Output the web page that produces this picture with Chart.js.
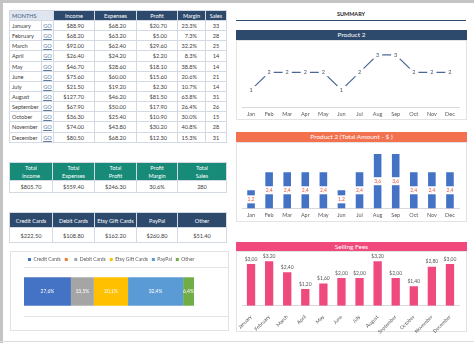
<!DOCTYPE html>
<html>
<head>
<meta charset="utf-8">
<script src="https://cdn.jsdelivr.net/npm/chart.js@4.4.0/dist/chart.umd.min.js"></script>
<style>
html, body { margin: 0; padding: 0; }
body { width: 474px; height: 343px; position: relative; overflow: hidden; background: #fff; font-family: Lato, "Open Sans", sans-serif; }
.strip { position: absolute; background: #c4c4c4; }
table { position: absolute; border-collapse: collapse; table-layout: fixed; font-size: 5.6px; color: #404040; }
td, th { border: 1px solid #d3dae3; padding: 0; overflow: hidden; white-space: nowrap; font-weight: normal; }
th { background: #2d4a6d; color: #fff; text-align: center; }
.main td.m { text-align: left; padding-left: 2px; }
.main td.go { text-align: center; color: #5b7ba3; text-decoration: underline; }
.main td.r { text-align: right; padding-right: 10px; }
.main td.r2 { text-align: right; padding-right: 8px; }
.main td.c { text-align: center; }
.main th.mh { background: #dfe6ef; color: #3d5a7e; text-align: left; padding-left: 2px; }
.tot th { background: #188a78; line-height: 8px; }
.tot td, .pay td { text-align: center; }
.box { position: absolute; border: 1px solid #e3e3e3; box-sizing: border-box; background: #fff; overflow: visible; }
.hdr { position: absolute; color: #fff; font-size: 6.5px; text-align: center; }
canvas { position: absolute; left: 0; top: 0; }
</style>
</head>
<body>
<div class="strip" style="left:0;top:0;width:474px;height:3px"></div>
<div class="strip" style="left:0;top:0;width:3px;height:343px"></div>
<div class="strip" style="left:0;top:341px;width:474px;height:1px;background:#dcdcdc"></div>

<table class="main" id="mainTable" style="left:9px;top:10px;width:217px"></table>
<table class="tot" id="totTable" style="left:9px;top:162px;width:217px"></table>
<table class="pay" id="payTable" style="left:9px;top:212px;width:217px"></table>

<div class="box" style="left:10px;top:251px;width:219px;height:80px"><canvas id="payChart" width="217" height="78"></canvas></div>

<div style="position:absolute;left:236px;top:11px;width:230px;text-align:center;font-size:5.5px;font-weight:bold;color:#262626">SUMMARY</div>
<div style="position:absolute;left:236px;top:20px;width:230px;height:1px;background:#2d4a6d"></div>

<div class="hdr" style="left:236px;top:30px;width:231px;height:10px;line-height:10px;background:#2d4a6d">Product 2</div>
<div class="box" style="left:236px;top:40px;width:231px;height:80px"><canvas id="lineChart" width="229" height="81"></canvas></div>

<div class="hdr" style="left:236px;top:132px;width:231px;height:10px;line-height:10px;background:#f4714f">Product 2 (Total Amount - $ )</div>
<div class="box" style="left:236px;top:142px;width:231px;height:80px"><canvas id="amountChart" width="229" height="79"></canvas></div>

<div class="hdr" style="left:236px;top:242px;width:231px;height:9px;line-height:9px;background:#f2497d">Selling Fees</div>
<div class="box" style="left:236px;top:251px;width:231px;height:81px"><canvas id="feesChart" width="229" height="83"></canvas></div>

<script>
// ---- data ----
const months = ['January', 'February', 'March', 'April', 'May', 'June', 'July', 'August', 'September', 'October', 'November', 'December'];
const monthsShort = ['Jan', 'Feb', 'Mar', 'Apr', 'May', 'Jun', 'Jul', 'Aug', 'Sep', 'Oct', 'Nov', 'Dec'];
const income = [88.90, 68.20, 92.00, 26.40, 46.70, 75.60, 21.50, 127.70, 67.90, 36.30, 74.00, 80.50];
const expenses = [68.20, 63.20, 62.40, 24.20, 28.60, 60.00, 19.20, 46.20, 50.00, 25.40, 43.80, 68.20];
const profit = [20.70, 5.00, 29.60, 2.20, 18.10, 15.60, 2.30, 81.50, 17.90, 10.90, 30.20, 12.30];
const margin = ['23.3%', '7.3%', '32.2%', '8.3%', '38.8%', '20.6%', '10.7%', '63.8%', '26.4%', '30.0%', '40.8%', '15.3%'];
const sales = [33, 28, 25, 14, 14, 21, 14, 31, 26, 15, 28, 31];

const totalHeaders = ['Total<br>Income', 'Total<br>Expenses', 'Total<br>Profit', 'Profit<br>Margin', 'Total<br>Sales'];
const totalValues = ['$805.70', '$559.40', '$246.30', '30.6%', '280'];

const payMethods = ['Credit Cards', 'Debit Cards', 'Etsy Gift Cards', 'PayPal', 'Other'];
const payAmounts = ['$222.50', '$108.80', '$162.20', '$260.80', '$51.40'];

// stacked bar (share of income, %), the orange series has no label and no value
const shareLabels = ['Credit Cards', '', 'Debit Cards', 'Etsy Gift Cards', 'PayPal', 'Other'];
const shareValues = [27.6, 0, 13.5, 20.1, 32.4, 6.4];
const shareColors = ['#4472c4', '#ed7d31', '#a5a5a5', '#ffc000', '#5b9bd5', '#70ad47'];

const product2Units = [1, 2, 2, 2, 2, 1, 2, 3, 3, 2, 2, 2];
const product2Amount = [1.2, 2.4, 2.4, 2.4, 2.4, 1.2, 2.4, 3.6, 3.6, 2.4, 2.4, 2.4];
const sellingFees = [3.00, 3.20, 2.40, 1.20, 1.60, 2.00, 2.00, 3.20, 2.00, 1.40, 2.80, 3.00];

// ---- tables ----
const colWidths = [43, 42, 42, 41, 49];
const money = v => '$' + v.toFixed(2);

let h = '<colgroup><col style="width:32px"><col style="width:12px"><col style="width:41px"><col style="width:42px"><col style="width:41px"><col style="width:28px"><col style="width:21px"></colgroup>';
h += '<tr style="height:10px"><th class="mh" colspan="2">MONTHS</th><th>Income</th><th>Expenses</th><th>Profit</th><th>Margin</th><th>Sales</th></tr>';
months.forEach((m, i) => {
  h += '<tr style="height:10.15px"><td class="m">' + m + '</td><td class="go">GO</td>' +
    '<td class="r">' + money(income[i]) + '</td><td class="r">' + money(expenses[i]) + '</td>' +
    '<td class="r">' + money(profit[i]) + '</td><td class="r2">' + margin[i] + '</td><td class="c">' + sales[i] + '</td></tr>';
});
document.getElementById('mainTable').innerHTML = h;

const cols = '<colgroup>' + colWidths.map(w => '<col style="width:' + w + 'px">').join('') + '</colgroup>';
document.getElementById('totTable').innerHTML = cols +
  '<tr style="height:18px">' + totalHeaders.map(t => '<th>' + t + '</th>').join('') + '</tr>' +
  '<tr style="height:12px">' + totalValues.map(t => '<td>' + t + '</td>').join('') + '</tr>';
document.getElementById('payTable').innerHTML = cols +
  '<tr style="height:15px">' + payMethods.map(t => '<th>' + t + '</th>').join('') + '</tr>' +
  '<tr style="height:15px">' + payAmounts.map(t => '<td>' + t + '</td>').join('') + '</tr>';

// ---- charts ----
Chart.defaults.font.family = 'Lato, "Open Sans", sans-serif';
Chart.defaults.color = '#595959';
Chart.defaults.animation = false;
const comma = (v, d) => v.toFixed(d).replace('.', ',');

function boxLabel(ctx, text, x, y, color, bg, size) {
  ctx.save();
  ctx.font = size + 'px Lato, "Open Sans", sans-serif';
  ctx.textAlign = 'center';
  ctx.textBaseline = 'middle';
  if (bg) {
    const w = ctx.measureText(text).width + 6;
    ctx.fillStyle = bg;
    ctx.fillRect(x - w / 2, y - 4, w, 8);
  }
  ctx.fillStyle = color;
  ctx.fillText(text, x, y);
  ctx.restore();
}

const noAxis = { display: false };
const monthAxis = (pad) => ({
  grid: { display: false, drawTicks: false },
  border: { color: '#d9d9d9' },
  ticks: { font: { size: 5.5 }, padding: pad }
});

// stacked payment bar
new Chart(document.getElementById('payChart'), {
  type: 'bar',
  data: {
    labels: [''],
    datasets: shareLabels.map((l, i) => ({
      label: l, data: [shareValues[i]], backgroundColor: shareColors[i],
      categoryPercentage: 0.58, barPercentage: 1
    }))
  },
  options: {
    responsive: false, indexAxis: 'y',
    layout: { padding: { left: 13, right: 0, top: 1, bottom: 14 } },
    plugins: {
      legend: { align: 'start', maxHeight: 14, labels: { boxWidth: 3, boxHeight: 3, padding: 4, font: { size: 5 } } },
      tooltip: { enabled: false }
    },
    scales: {
      x: { stacked: true, min: 0, max: 120, display: false },
      y: { stacked: true, ticks: { display: false }, border: { display: false },
           grid: { color: '#e4e4e4', drawTicks: false } }
    }
  },
  plugins: [{
    id: 'shareLabels',
    afterDatasetsDraw(chart) {
      chart.data.datasets.forEach((ds, i) => {
        if (!ds.data[0]) return;
        const bar = chart.getDatasetMeta(i).data[0];
        boxLabel(chart.ctx, comma(ds.data[0], 1) + '%', (bar.x + bar.base) / 2, bar.y, '#fff', null, 5);
      });
    }
  }]
});

// Product 2 units
new Chart(document.getElementById('lineChart'), {
  type: 'line',
  data: {
    labels: monthsShort,
    datasets: [{ data: product2Units, borderColor: '#4a6894', borderWidth: 1.2, pointRadius: 0, tension: 0 }]
  },
  options: {
    responsive: false,
    layout: { padding: { left: 5, right: 7, top: 6, bottom: 0 } },
    plugins: { legend: { display: false }, tooltip: { enabled: false } },
    scales: { x: Object.assign({ offset: true }, monthAxis(4)), y: Object.assign({ min: 0, max: 3.45 }, noAxis) }
  },
  plugins: [{
    id: 'unitLabels',
    afterDatasetsDraw(chart) {
      chart.getDatasetMeta(0).data.forEach((p, i) => {
        boxLabel(chart.ctx, String(product2Units[i]), p.x, p.y, '#44546a', '#fff', 5.5);
      });
    }
  }]
});

// Product 2 amount
new Chart(document.getElementById('amountChart'), {
  type: 'bar',
  data: {
    labels: monthsShort,
    datasets: [{ data: product2Amount, backgroundColor: '#4472c4', categoryPercentage: 0.42, barPercentage: 1 }]
  },
  options: {
    responsive: false,
    layout: { padding: { left: 5, right: 7, top: 5, bottom: 0 } },
    plugins: { legend: { display: false }, tooltip: { enabled: false } },
    scales: { x: monthAxis(3.5), y: Object.assign({ min: 0, max: 4 }, noAxis) }
  },
  plugins: [{
    id: 'amountLabels',
    afterDatasetsDraw(chart) {
      chart.getDatasetMeta(0).data.forEach((b, i) => {
        boxLabel(chart.ctx, comma(product2Amount[i], 1), b.x, (b.y + b.base) / 2, '#e5573c', '#fff', 5);
      });
    }
  }]
});

// selling fees
new Chart(document.getElementById('feesChart'), {
  type: 'bar',
  data: {
    labels: months,
    datasets: [{ data: sellingFees, backgroundColor: '#ef4a7e', categoryPercentage: 0.46, barPercentage: 1 }]
  },
  options: {
    responsive: false,
    layout: { padding: { left: 5, right: 7, top: 5, bottom: 0 } },
    plugins: { legend: { display: false }, tooltip: { enabled: false } },
    scales: {
      x: { grid: { display: false }, border: { color: '#d9d9d9' },
           ticks: { font: { size: 5 }, padding: 0, minRotation: 45, maxRotation: 45 } },
      y: Object.assign({ min: 0, max: 3.5 }, noAxis)
    }
  },
  plugins: [{
    id: 'feeLabels',
    afterDatasetsDraw(chart) {
      chart.getDatasetMeta(0).data.forEach((b, i) => {
        boxLabel(chart.ctx, '$' + comma(sellingFees[i], 2), b.x, b.y - 5, '#595959', null, 5);
      });
    }
  }]
});
</script>
</body>
</html>
